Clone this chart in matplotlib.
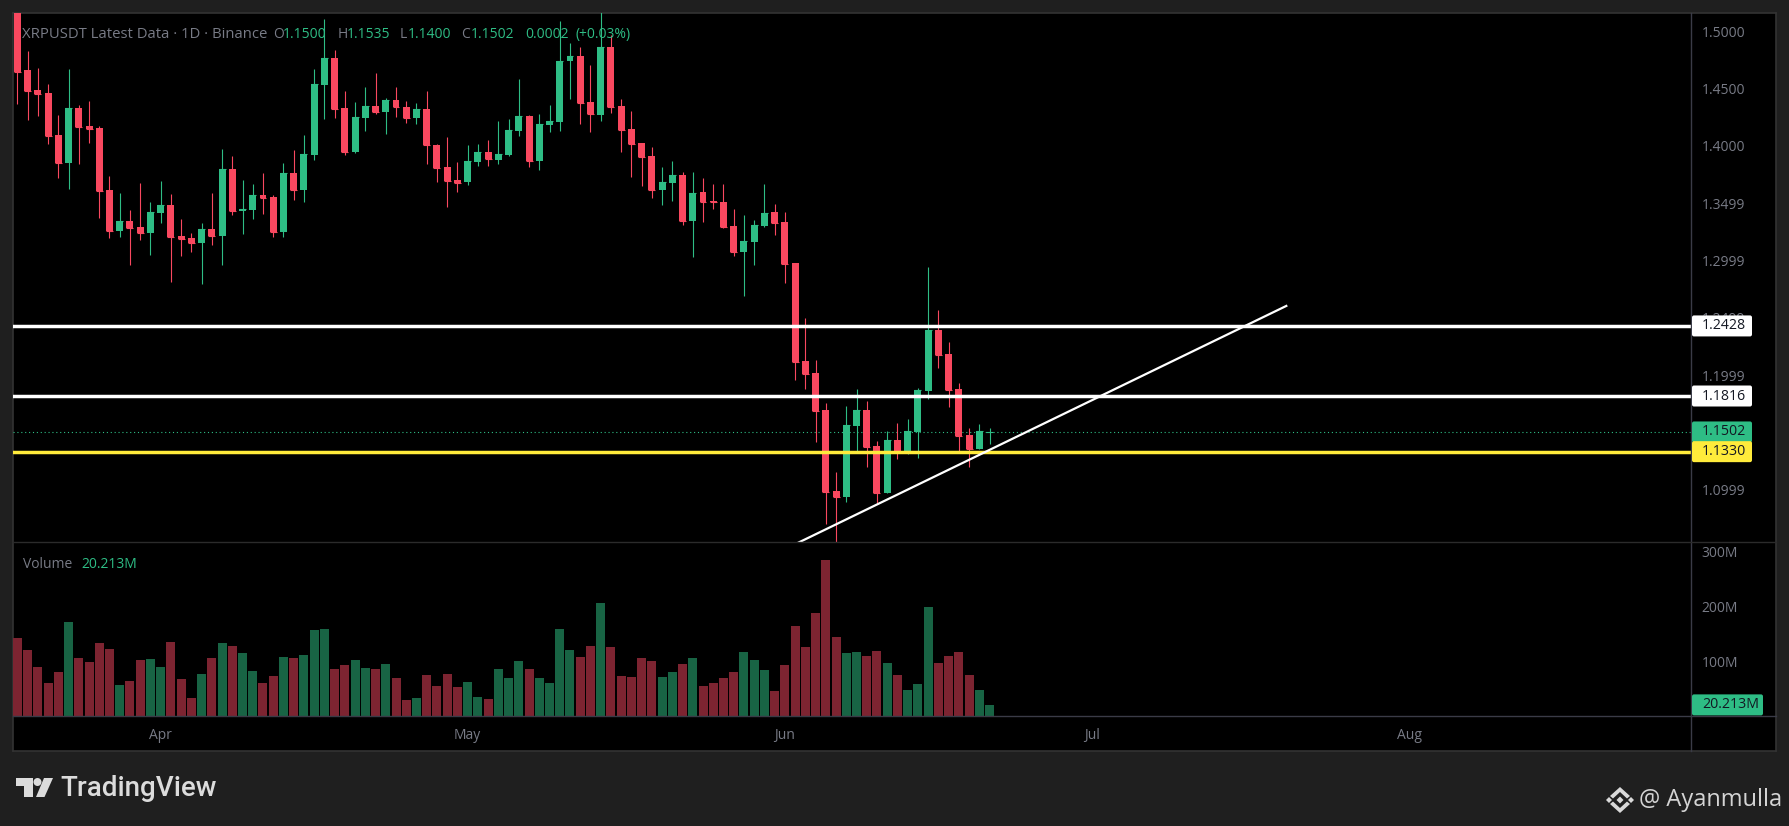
import matplotlib
matplotlib.use("Agg")
import matplotlib.pyplot as plt
from matplotlib.lines import Line2D
from matplotlib.patches import FancyBboxPatch, Polygon, Circle
from matplotlib.transforms import IdentityTransform
import numpy as np

opens = [1.5200,1.4659,1.4485,1.4458,1.4092,1.3850,1.4327,1.4170,1.4153,1.3611,
         1.3256,1.3341,1.3288,1.3239,1.3413,1.3480,1.3210,1.3192,1.3151,1.3271,
         1.3213,1.3795,1.3431,1.3440,1.3568,1.3550,1.3248,1.3760,1.3614,1.3920,
         1.4531,1.4764,1.4327,1.3946,1.4243,1.4345,1.4296,1.4397,1.4336,1.4243,
         1.4319,1.4010,1.3812,1.3699,1.3684,1.3859,1.3943,1.3876,1.3920,1.4130,
         1.4258,1.3868,1.4182,1.4208,1.4741,1.4782,1.4380,1.4269,1.4860,1.4345,
         1.4144,1.4022,1.3908,1.3614,1.3675,1.3742,1.3344,1.3594,1.3515,1.3507,
         1.3297,1.3073,1.3160,1.3300,1.3419,1.3332,1.2974,1.2118,1.2013,1.1690,
         1.0983,1.0933,1.1553,1.1690,1.1376,1.0968,1.1428,1.1326,1.1501,1.1859,
         1.2389,1.2179,1.1873,1.1472,1.1352,1.1500]
highs = [1.5250,1.4828,1.4677,1.4537,1.4266,1.4668,1.4354,1.4389,1.4170,1.3734,
         1.3585,1.3437,1.3672,1.3507,1.3690,1.3576,1.3358,1.3236,1.3323,1.3585,
         1.3969,1.3908,1.3699,1.3664,1.3760,1.3568,1.3847,1.3961,1.4092,1.4668,
         1.5105,1.4834,1.4476,1.4380,1.4511,1.4633,1.4415,1.4511,1.4389,1.4371,
         1.4476,1.4013,1.4074,1.3856,1.4004,1.4013,1.4048,1.4214,1.4232,1.4581,
         1.4266,1.4275,1.4354,1.5087,1.4895,1.4860,1.4703,1.5192,1.4965,1.4406,
         1.4301,1.4028,1.3987,1.3812,1.3865,1.3769,1.3769,1.3716,1.3664,1.3664,
         1.3445,1.3393,1.3349,1.3664,1.3489,1.3419,1.2974,1.2493,1.2127,1.1751,
         1.1148,1.1725,1.1873,1.1769,1.1419,1.1507,1.1576,1.1611,1.1882,1.2939,
         1.2563,1.2284,1.1926,1.1533,1.1568,1.1535]
lows = [1.4362,1.4226,1.4261,1.4013,1.3716,1.3620,1.3841,1.4025,1.3370,1.3195,
        1.3204,1.2959,1.3178,1.3047,1.3326,1.2811,1.3038,1.3073,1.2793,1.3134,
        1.2959,1.3396,1.3227,1.3361,1.3405,1.3204,1.3204,1.3527,1.3510,1.3876,
        1.4232,1.4243,1.3920,1.3940,1.4130,1.4275,1.4103,1.4249,1.4199,1.4188,
        1.3841,1.3684,1.3466,1.3597,1.3658,1.3824,1.3824,1.3841,1.3911,1.4086,
        1.3815,1.3789,1.4121,1.4130,1.4409,1.4191,1.4121,1.4217,1.4287,1.3946,
        1.3728,1.3649,1.3544,1.3483,1.3518,1.3309,1.3029,1.3335,1.3448,1.3282,
        1.3038,1.2689,1.2959,1.3291,1.3221,1.2802,1.1955,1.1876,1.1413,1.0697,
        1.0476,1.0889,1.1326,1.1195,1.0884,1.0968,1.1265,1.1309,1.1274,1.1789,
        1.2060,1.1719,1.1335,1.1195,1.1349,1.1400]
closes = [1.4645,1.4479,1.4450,1.4086,1.3850,1.4327,1.4165,1.4147,1.3606,1.3256,
          1.3341,1.3282,1.3239,1.3419,1.3480,1.3204,1.3183,1.3151,1.3271,1.3213,
          1.3795,1.3431,1.3445,1.3568,1.3544,1.3248,1.3760,1.3614,1.3926,1.4537,
          1.4764,1.4322,1.3946,1.4249,1.4345,1.4293,1.4397,1.4339,1.4243,1.4319,
          1.4007,1.3806,1.3693,1.3675,1.3865,1.3943,1.3885,1.3926,1.4135,1.4258,
          1.3868,1.4188,1.4214,1.4738,1.4782,1.4374,1.4278,1.4860,1.4339,1.4138,
          1.4016,1.3903,1.3614,1.3681,1.3742,1.3344,1.3585,1.3509,1.3509,1.3291,
          1.3073,1.3166,1.3306,1.3410,1.3326,1.2968,1.2112,1.2007,1.1684,1.0977,
          1.0933,1.1559,1.1690,1.1370,1.0968,1.1428,1.1326,1.1507,1.1865,1.2389,
          1.2173,1.1868,1.1466,1.1352,1.1507,1.1502]
volumes_m = [142,120,89,60,80,171,105,98,133,122,
             56,64,102,104,89,135,67,33,76,105,
             133,127,115,82,60,73,107,105,111,156,
             158,85,93,102,87,85,95,69,29,33,
             75,55,76,53,62,35,31,85,69,100,
             85,69,60,158,120,107,127,205,125,73,
             71,105,100,71,80,95,105,55,60,69,
             80,116,102,84,45,93,164,125,187,284,
             144,115,116,109,118,96,75,47,58,198,
             96,109,116,75,47,20.213]

price_ticks = [1.5000,1.4500,1.4000,1.3499,1.2999,1.2499,1.1999,1.0999]
volume_ticks = [100,200,300]
volume_tick_labels = ["100M","200M","300M"]
month_positions = [14,44,75,105,136]
month_labels = ["Apr","May","Jun","Jul","Aug"]
support_levels = [1.2428,1.1816]
yellow_level = 1.1330
last_price = 1.1502
trend_x = [75.5,124.1]
trend_y = [1.0500,1.2607]

W, H = 1789, 826
BG = "#1f1f1f"; PANE = "#000000"; FRAME = "#333333"; GRID = "#3a3b47"
GREY = "#787b86"; UP = "#2EBD85"; DOWN = "#F9485F"
VUP = "#186444"; VDOWN = "#7D2431"; YEL = "#FFEB3B"
FONT = "Open Sans"
plt.rcParams["font.family"] = [FONT, "DejaVu Sans"]

fig = plt.figure(figsize=(W/100, H/100), dpi=100, facecolor=BG)

def rect(x0, y0, x1, y1):
    return [x0/W, 1-y1/H, (x1-x0)/W, (y1-y0)/H]

def fx(x): return x/W
def fy(y): return 1-y/H

# black backing panel including the scale strips
back = fig.add_axes(rect(13, 13, 1776, 751), facecolor=PANE)
back.set_xticks([]); back.set_yticks([])
for s in back.spines.values():
    s.set_color(FRAME); s.set_linewidth(1.2)

ax = fig.add_axes(rect(13, 13, 1691, 542), facecolor="none")
vx = fig.add_axes(rect(13, 542, 1691, 716), facecolor="none")
for a in (ax, vx):
    for s in a.spines.values():
        s.set_visible(False)

x = np.arange(len(opens))
o, h, l, c = map(np.array, (opens, highs, lows, closes))
is_up = c >= o
colors = np.where(is_up, UP, DOWN)

ax.vlines(x, l, h, colors=colors, linewidth=0.8, zorder=3)
ax.bar(x, np.abs(c-o), bottom=np.minimum(o, c), width=0.68, color=colors, linewidth=0, zorder=3)
ax.hlines(c, x-0.34, x+0.34, colors=colors, linewidth=0.8, zorder=3)

for lev in support_levels:
    ax.axhline(lev, color="white", linewidth=2.5, zorder=4)
ax.axhline(yellow_level, color=YEL, linewidth=2.5, zorder=4)
ax.axhline(last_price, color=UP, linewidth=0.8, linestyle=(0, (1, 2.5)), zorder=2)
ax.plot(trend_x, trend_y, color="white", linewidth=1.6, zorder=5, solid_capstyle="butt")

ax.set_xlim(-0.43, 163.55)
ax.set_ylim(1.0541, 1.5161)
ax.yaxis.tick_right()
ax.set_yticks(price_ticks)
ax.set_yticklabels([f"{t:.4f}" for t in price_ticks])
ax.tick_params(axis="y", length=0, pad=7.7, labelsize=10, labelcolor=GREY)
ax.set_xticks([])

vx.bar(x, volumes_m, width=0.88, color=np.where(is_up, VUP, VDOWN), linewidth=0)
vx.set_xlim(-0.43, 163.55)
vx.set_ylim(0, 316.4)
vx.yaxis.tick_right()
vx.set_yticks(volume_ticks)
vx.set_yticklabels(volume_tick_labels)
vx.tick_params(axis="y", length=0, pad=7.7, labelsize=10, labelcolor=GREY)
vx.set_xticks(month_positions)
vx.set_xticklabels(month_labels)
vx.tick_params(axis="x", length=0, pad=8.5, labelsize=10, labelcolor=GREY)

# pane separators
fig.add_artist(Line2D([fx(1691)]*2, [fy(13), fy(751)], color=GRID, linewidth=1))
fig.add_artist(Line2D([fx(13), fx(1776)], [fy(542)]*2, color="#2b2b2b", linewidth=1))
fig.add_artist(Line2D([fx(13), fx(1776)], [fy(716)]*2, color=GRID, linewidth=1))

# axis tags
fig.canvas.draw()
def tag(axis, value, text, face, x1=1752):
    yp = axis.transData.transform((0, value))[1]
    fig.add_artist(FancyBboxPatch((1692, yp-10.5), x1-1692, 21,
                                  boxstyle="round,pad=0,rounding_size=2",
                                  transform=IdentityTransform(), facecolor=face,
                                  edgecolor="none", zorder=6))
    fig.text(1702/W, yp/H, text, color="#131722", fontsize=10.2, va="center", ha="left", zorder=7)

tag(ax, support_levels[0], f"{support_levels[0]:.4f}", "white")
tag(ax, support_levels[1], f"{support_levels[1]:.4f}", "white")
tag(ax, last_price, f"{last_price:.4f}", UP)
tag(ax, yellow_level, f"{yellow_level:.4f}", YEL)
tag(vx, volumes_m[-1], "20.213M", UP, x1=1763)

# header legend
def label(px, py, s, color=GREY, size=10, **kw):
    fig.text(px/W, fy(py), s, color=color, fontsize=size, va="center", ha="left", zorder=8, **kw)

label(22.5, 34.5, "XRPUSDT Latest Data · 1D · Binance", size=10.7)
label(273, 34.5, "O"); label(283, 34.5, "1.1500", UP)
label(338, 34.5, "H"); label(347, 34.5, "1.1535", UP)
label(400, 34.5, "L"); label(408, 34.5, "1.1400", UP)
label(461, 34.5, "C"); label(471, 34.5, "1.1502", UP)
label(525, 34.5, "0.0002", UP); label(575, 34.5, "(+0.03%)", UP)
label(23, 564.5, "Volume"); label(81.5, 564.5, "20.213M", UP)

# TradingView mark
LOGO = "#dcdcdc"
def poly(pts, color=LOGO):
    fig.add_artist(Polygon([(fx(a), fy(b)) for a, b in pts], closed=True,
                           facecolor=color, edgecolor="none", transform=fig.transFigure, zorder=8))
poly([(15.5,778),(32.5,778),(32.5,797),(24,797),(24,786),(15.5,786)])
fig.add_artist(Circle((37.5, H-782), 4, facecolor=LOGO, edgecolor="none",
                      transform=IdentityTransform(), zorder=8))
poly([(44,778),(53,778),(44.5,797),(36,797)])
fig.text(60.5/W, fy(788), "TradingView", color=LOGO, fontsize=20, va="center", ha="left",
         family="Roboto", weight="medium")

# author mark
def diamond(cx, cy, r):
    poly([(cx-r,cy),(cx,cy-r),(cx+r,cy),(cx,cy+r)], "#d9d9d9")
diamond(1620, 800, 3.5); diamond(1609, 800, 3); diamond(1631, 800, 3)
poly([(1620,787),(1630,796),(1627,798.5),(1620,792),(1613,798.5),(1610,796)], "#d9d9d9")
poly([(1620,813),(1630,804),(1627,801.5),(1620,808),(1613,801.5),(1610,804)], "#d9d9d9")
fig.text(1639/W, fy(799.5), "@ Ayanmulla", color="#d4d4d4", fontsize=17, va="center", ha="left")

fig.savefig("out.png", dpi=100, facecolor=BG)
